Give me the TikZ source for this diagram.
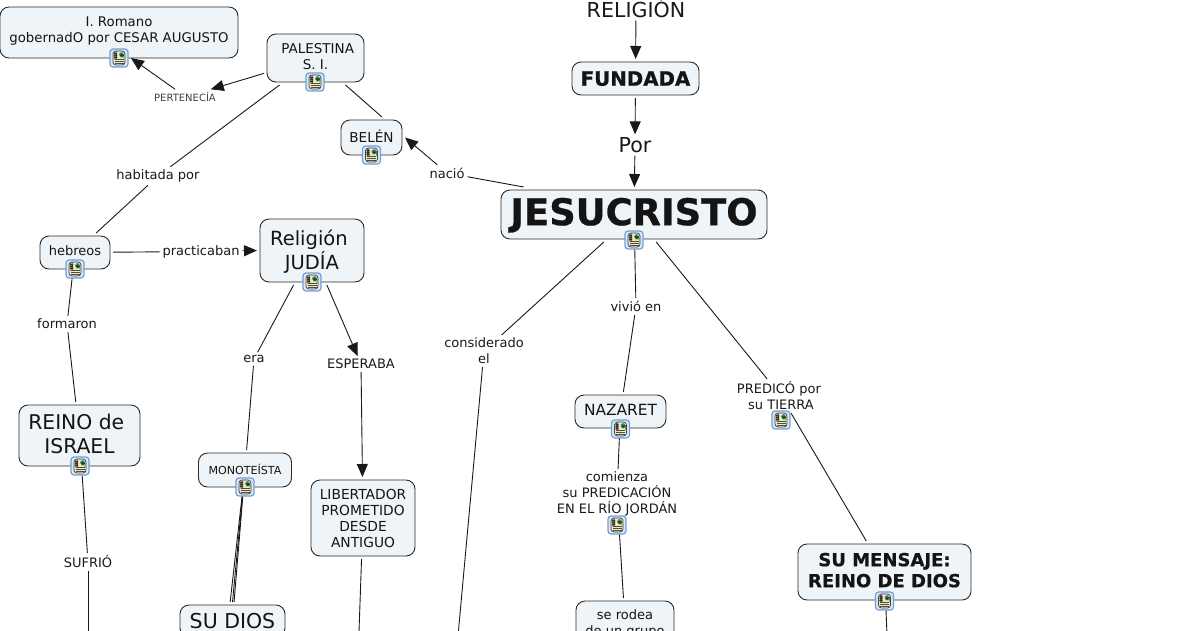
\documentclass[tikz,border=0pt]{standalone}
\usepackage{fontspec}
\setmainfont{DejaVu Sans}[BoldFeatures={FakeBold=0.7}]
\usetikzlibrary{arrows.meta}
\definecolor{boxfill}{HTML}{EEF4F7}
\definecolor{boxline}{HTML}{2A2A2A}
\definecolor{iconblue}{HTML}{6F9FD8}
\definecolor{iconpale}{HTML}{DCE8F5}
\definecolor{iconpaper}{HTML}{EFE9BE}
\tikzset{
	concepto/.style={draw=boxline, fill=boxfill, rounded corners=9pt, line width=0.9pt, inner sep=0pt, outer sep=3pt, align=center, text=black!92, text depth=4pt},
	enlace/.style={inner sep=3pt, outer sep=0pt, align=center, text=black!90, font=\fontsize{13}{16}\selectfont},
	chico/.style={font=\fontsize{10}{14}\selectfont},
	linea/.style={line width=0.9pt, color=black!90},
	flecha/.style={linea, -{Triangle[length=13pt,width=11pt]}},
	docicon/.style={draw=iconblue, fill=iconpale, line width=1.2pt, rounded corners=3pt, minimum size=18pt, inner sep=0pt, outer sep=3pt, path picture={
		\begin{scope}[shift={(path picture bounding box.center)}]
			\draw[fill=iconpaper, draw=black!75, line width=0.7pt] (-6, -7) rectangle (6, 7);
			\fill[color=iconblue!80!black] (0, -6) rectangle (5, -1);
			\fill[color=green!35!black] (1, -3) -- (3, -5) -- (5, -2) -- (5, -1) -- (1, -1) -- cycle;
			\foreach \ypos in {-5, -3, -1} {\fill[color=black!80] (-4.5, \ypos) rectangle (-2.5, \ypos+1);}
			\foreach \ypos in {1.5, 3.5, 5.2} {\draw[color=black!70, line width=0.6pt] (-4.5, \ypos) -- (4.5, \ypos);}
		\end{scope}}},
}
\begin{document}
\begin{tikzpicture}[x=1pt, y=-1pt]
		\useasboundingbox (0, 0) rectangle (1200, 630);
		\clip (0, 0) rectangle (1200, 630);
		
		%%%%% CONCEPTS %%%%%
		
		\node[concepto, minimum width=238pt, minimum height=51pt, font=\fontsize{13.3}{16}\selectfont, text depth=6pt] (romano) at (119, 32.5) {I. Romano\\gobernadO por CESAR AUGUSTO};
		\node[concepto, minimum width=97pt, minimum height=48pt, font=\fontsize{13.5}{16}\selectfont] (palestina) at (315.5, 58) {\mbox{~PALESTINA}\\S. I.};
		\node[concepto, minimum width=61pt, minimum height=35pt, font=\fontsize{13.6}{16}\selectfont, text depth=2pt] (belen) at (371.5, 137.5) {BELÉN};
		\node[concepto, minimum width=70pt, minimum height=33pt, font=\fontsize{13}{16}\selectfont] (hebreos) at (75, 252.5) {hebreos};
		\node[concepto, minimum width=104pt, minimum height=63pt, font=\fontsize{19.5}{24}\selectfont, text depth=1pt] (judia) at (312, 250.5) {\mbox{Religión~}\\JUDÍA};
		\node[concepto, minimum width=121pt, minimum height=61pt, font=\fontsize{20.3}{24}\selectfont] (israel) at (79.5, 435.5) {\mbox{REINO de~}\\ISRAEL};
		\node[concepto, minimum width=93pt, minimum height=34pt, font=\fontsize{11.1}{14}\selectfont, text depth=2pt] (monoteista) at (245, 470) {MONOTEÍSTA};
		\node[concepto, minimum width=104pt, minimum height=76pt, font=\fontsize{13.8}{16}\selectfont, text depth=0pt] (libertador) at (363, 518) {LIBERTADOR\\PROMETIDO\\DESDE\\ANTIGUO};
		\node[concepto, minimum width=105pt, minimum height=32pt, font=\fontsize{20.5}{24}\selectfont, text depth=0pt] (sudios) at (232.5, 621) {SU DIOS};
		\node[concepto, minimum width=127pt, minimum height=33pt, font=\bfseries\fontsize{19.8}{22}\selectfont, text depth=0pt] (fundada) at (635.5, 78.5) {FUNDADA};
		\node[concepto, minimum width=266pt, minimum height=49pt, font=\bfseries\fontsize{36.8}{44}\selectfont, text depth=6pt] (jesucristo) at (634, 214.5) {JESUCRISTO};
		\node[concepto, minimum width=91pt, minimum height=33pt, font=\fontsize{15.4}{18}\selectfont, text depth=3pt] (nazaret) at (620.5, 411.5) {NAZARET};
		\node[concepto, minimum width=98pt, minimum height=44pt, font=\fontsize{13}{16}\selectfont, text depth=0pt] (rodea) at (625, 623) {se rodea\\de un grupo};
		\node[concepto, minimum width=173pt, minimum height=56pt, font=\bfseries\fontsize{18}{21}\selectfont] (mensaje) at (884.5, 572) {SU MENSAJE:\\REINO DE DIOS};
		
		%%%%% LINKING WORDS %%%%%
		
		\node[enlace, font=\fontsize{20.6}{24}\selectfont] (religion) at (636, 8) {RELIGIÓN};
		\node[enlace, font=\fontsize{20.6}{24}\selectfont] (por) at (635, 145) {Por};
		\node[enlace, chico, text=black!75] (pertenencia) at (185, 97) {PERTENECÍA};
		\node[enlace] (habitada) at (158, 176) {habitada por};
		\node[enlace] (practicaban) at (201, 251.5) {practicaban};
		\node[enlace] (formaron) at (67, 324) {formaron};
		\node[enlace] (era) at (254, 359) {era};
		\node[enlace] (esperaba) at (361, 364) {ESPERABA};
		\node[enlace] (sufrio) at (88, 562) {SUFRIÓ};
		\node[enlace] (nacio) at (447, 173) {nació};
		\node[enlace] (considerado) at (484, 351) {considerado\\el};
		\node[enlace] (vivio) at (636, 306.5) {vivió en};
		\node[enlace] (predico) at (781, 396) {\mbox{PREDICÓ por~}\\su TIERRA};
		\node[enlace] (comienza) at (617, 494) {comienza\\su PREDICACIÓN\\EN EL RÍO JORDÁN};
		
		\coordinate (salidaA) at (88, 660);
		\coordinate (salidaB) at (358, 660);
		\coordinate (salidaC) at (455.8, 660);
		\coordinate (salidaD) at (888, 660);
		
		%%%%% CONNECTORS %%%%%
		
		\draw[flecha] (religion) -- (fundada);
		\draw[flecha] (fundada) -- (por);
		\draw[flecha] (por) -- (jesucristo);
		\draw[linea] (jesucristo.166.6) -- (nacio);
		\draw[flecha] (nacio) -- (belen.east);
		\draw[linea] (palestina.318) -- (belen.63);
		\draw[flecha] (palestina) -- (pertenencia);
		\draw[linea] (palestina) -- (habitada);
		\draw[linea] (habitada) -- (hebreos);
		\draw[linea] (hebreos) -- (practicaban);
		\draw[flecha] (practicaban) -- (judia.west);
		\draw[linea] (hebreos) -- (formaron);
		\draw[linea] (formaron) -- (israel);
		\draw[linea] (israel) -- (sufrio);
		\draw[linea] (sufrio) -- (salidaA);
		\draw[linea] (judia) -- (era);
		\draw[linea] (era) -- (monoteista);
		\draw[linea] (monoteista) -- (sudios);
		\draw[linea] (monoteista) -- (sudios.north);
		\draw[linea] (monoteista) -- (sudios.97);
		\draw[flecha] (judia) -- (esperaba);
		\draw[flecha] (esperaba) -- (libertador);
		\draw[linea] (libertador) -- (salidaB);
		\draw[linea] (jesucristo) -- (considerado);
		\draw[linea] (considerado) -- (salidaC);
		\draw[linea] (jesucristo) -- (vivio);
		\draw[linea] (vivio) -- (nazaret);
		\draw[linea] (nazaret) -- (comienza);
		\draw[linea] (comienza) -- (rodea);
		\draw[linea] (jesucristo) -- (predico);
		\draw[linea] (predico) -- (mensaje);
		\draw[linea] (mensaje) -- (salidaD);
		
		%%%%% ICONS %%%%%
		
		\node[docicon] (iconoRomano) at (119, 58) {};
		\node[docicon] (iconoPalestina) at (315, 82) {};
		\node[docicon] (iconoBelen) at (371.5, 155) {};
		\node[docicon] (iconoHebreos) at (75, 269) {};
		\node[docicon] (iconoJudia) at (312, 282) {};
		\node[docicon] (iconoIsrael) at (80, 466) {};
		\node[docicon] (iconoMonoteista) at (245, 487) {};
		\node[docicon] (iconoJesucristo) at (634, 240) {};
		\node[docicon] (iconoNazaret) at (620.5, 429) {};
		\node[docicon] (iconoPredico) at (781, 420) {};
		\node[docicon] (iconoComienza) at (617, 525) {};
		\node[docicon] (iconoMensaje) at (884.5, 601) {};
		
		\draw[flecha] (pertenencia.142) -- (iconoRomano.east);
	\end{tikzpicture}
\end{document}
